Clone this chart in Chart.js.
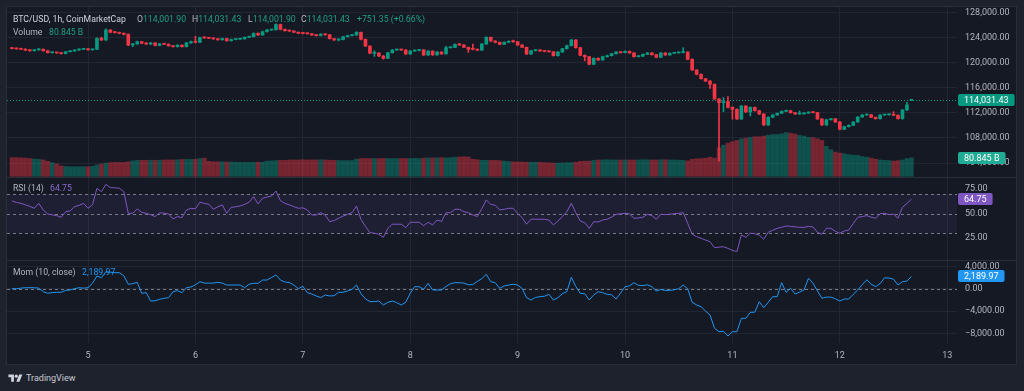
<!DOCTYPE html>
<html>
<head>
<meta charset="utf-8">
<title>BTC/USD 1h</title>
<script src="https://cdn.jsdelivr.net/npm/chart.js@4.4.1/dist/chart.umd.min.js"></script>
<style>
  html, body { margin: 0; padding: 0; }
  body { width: 1024px; height: 391px; background: #1e222d; overflow: hidden; position: relative; font-family: Roboto, "Noto Sans", sans-serif; }
  #frame { position: absolute; left: 6px; top: 6px; width: 1011px; height: 359px; background: #2a2e39; }
  .pane { position: absolute; left: 7px; width: 1009px; background: #151924; }
  .pane canvas { display: block; }
  #p1 { top: 7px; height: 170px; }
  #p2 { top: 178px; height: 82px; }
  #p3 { top: 261px; height: 103px; }
  .leg { position: absolute; left: 0; width: 600px; height: 12px; font-size: 8.7px; line-height: 12px; color: #b2b5be; white-space: nowrap; z-index: 2; }
  .leg span { position: absolute; top: 0; }
  .leg .ttl { color: #d1d4dc; }
  .leg .g { color: #1f9f86; }
  .leg b { font-weight: normal; }
  #brand { position: absolute; left: 8px; top: 372px; height: 12px; display: flex; align-items: center; color: #c8cbd3; font-size: 9px; }
  #brand svg { margin-right: 3px; }
</style>
</head>
<body>
<div id="frame"></div>
<div class="pane" id="p1"><canvas id="c1" width="1009" height="170"></canvas></div>
<div class="pane" id="p2"><canvas id="c2" width="1009" height="82"></canvas></div>
<div class="pane" id="p3"><canvas id="c3" width="1009" height="103"></canvas></div>

<div class="leg" style="top:13px">
  <span class="ttl" style="left:13px">BTC/USD, 1h, CoinMarketCap</span>
  <span style="left:137px">O<b class="g" id="lo"></b></span>
  <span style="left:192px">H<b class="g" id="lh"></b></span>
  <span style="left:248px">L<b class="g" id="ll"></b></span>
  <span style="left:301px">C<b class="g" id="lc"></b></span>
  <span class="g" style="left:357px" id="lchg"></span>
</div>
<div class="leg" style="top:26px"><span style="left:13px">Volume</span><span class="g" style="left:49px" id="lvol"></span></div>
<div class="leg" style="top:182px"><span style="left:13px">RSI (14)</span><span style="left:50px;color:#8c6bd0" id="lrsi"></span></div>
<div class="leg" style="top:266px"><span style="left:13px">Mom (10, close)</span><span style="left:82px;color:#2196f3" id="lmom"></span></div>
<div id="brand"><svg width="15" height="11" viewBox="0 0 36 28"><path d="M14 22H7V11H0V4h14v18zM28 22h-8l7.5-18h8L28 22z" fill="#d1d4dc"/><circle cx="20" cy="8" r="4" fill="#d1d4dc"/></svg>TradingView</div>

<script>
// hourly candles, first one is Aug 4 07:00
const startHour = 7;

const open = [
  122350,122250,122200,122150,122000,121900,122050,122150,121900,121600,121620,121550,121450,121750,121860,122020,122130,
  122180,122050,122130,123890,123620,125210,124850,124800,124690,124530,
  122820,122990,123350,123100,122980,123150,122750,123000,122950,122700,
  122550,122800,122550,123150,123350,123250,124000,123950,123900,123800,
  123650,123850,123500,123700,123750,123800,124050,124150,124690,124420,
  124940,125210,125250,126100,125300,125100,125050,124850,124700,124660,
  124620,124420,124320,124550,124450,123830,123620,123700,124140,124320,
  124420,124850,123730,122660,121500,121550,121070,120700,121590,122020,
  122080,122030,121390,121860,121950,122050,121230,121860,121250,121700,
  121400,122390,122420,122930,122820,122450,122140,122130,122000,122980,
  124050,123460,123250,122930,123250,123410,123350,122820,122450,121390,
  121910,122020,121870,121800,121740,121120,121700,122230,122710,123620,
  122390,121180,120960,119740,120700,120430,120960,121120,121430,121700,
  121600,121820,121550,120960,121050,121340,121550,121280,120860,121550,
  121230,121500,121560,121620,121700,120540,118840,118150,117450,117080,
  116560,114210,113620,113800,112890,112570,111030,113100,112140,112890,
  112350,111820,110070,111300,111660,111930,112250,112350,112030,111820,
  111850,111980,112090,112050,111030,110070,110910,111070,110550,109380,
  109800,110020,110550,111340,111660,111720,111300,111070,111660,111700,
  111750,111620,111070,112460,114001.90
];
const close = [
  122250,122200,122150,122000,121900,122050,122150,121900,121600,121620,121550,121450,121750,121860,122020,122130,122180,
  122050,122130,123890,123620,125210,124850,124800,124690,124530,122820,
  122990,123350,123100,122980,123150,122750,123000,122950,122700,122550,
  122800,122550,123150,123350,123250,124000,123950,123900,123800,123650,
  123850,123500,123700,123750,123800,124050,124150,124690,124420,124940,
  125210,125250,126100,125300,125100,125050,124850,124700,124660,124620,
  124420,124320,124550,124450,123830,123620,123700,124140,124320,124420,
  124850,123730,122660,121500,121550,121070,120700,121590,122020,122080,
  122030,121390,121860,121950,122050,121230,121860,121250,121700,121400,
  122390,122420,122930,122820,122450,122140,122130,122000,122980,124050,
  123460,123250,122930,123250,123410,123350,122820,122450,121390,121910,
  122020,121870,121800,121740,121120,121700,122230,122710,123620,122390,
  121180,120960,119740,120700,120430,120960,121120,121430,121700,121600,
  121820,121550,120960,121050,121340,121550,121280,120860,121550,121230,
  121500,121560,121620,121700,120540,118840,118150,117450,117080,116560,
  114210,113620,113800,112890,112570,111030,113100,112140,112890,112350,
  111820,110070,111300,111660,111930,112250,112350,112030,111820,111850,
  111980,112090,112050,111030,110070,110910,111070,110550,109380,109800,
  110020,110550,111340,111660,111720,111300,111070,111660,111700,111750,
  111620,111070,112460,113280,114031.43
];
const high = [
  122420,122330,122280,122230,122080,122130,122250,122200,121960,121700,121680,121600,121810,121940,122080,122200,122260,
  122300,122200,123980,124080,125380,125300,124950,124880,124760,124600,
  123080,123440,123420,123180,123240,123200,123090,123080,123000,122760,
  122880,122860,123240,123440,124200,124100,124150,124020,123960,123860,
  123920,123900,123780,123820,123880,124120,124230,124760,124780,125020,
  125300,125340,126200,126150,125380,125180,125120,124900,124780,124740,
  124680,124480,124620,124600,124500,123900,123800,124220,124400,124500,
  124950,124900,123780,122700,121900,121620,121150,121660,122100,122180,
  122150,122080,121940,122040,122140,122100,121940,121900,121780,121760,
  122600,122520,123020,123100,122880,122500,122980,122200,123060,124140,
  124100,123520,123300,123330,123500,123600,123400,122880,122500,121990,
  122100,122080,121930,121860,121800,121780,122300,122800,123720,123680,
  122450,121250,121020,120780,120760,121040,121200,121500,121780,121760,
  121900,121880,121600,121140,121420,121640,121600,121340,121620,121600,
  121580,121640,121700,122400,121760,120600,118900,118220,117520,117140,
  116620,114280,114450,114600,112960,112640,113180,113160,112960,112950,
  112420,111880,111380,111740,112000,112330,112430,112420,112100,112300,
  112060,112170,112160,112100,111100,110990,111150,111130,110620,109880,
  110100,110620,111420,111740,111800,111780,111360,111740,111780,111830,
  112200,111680,112540,113700,114031.43
];
const low = [
  122180,122120,122060,121920,121820,121850,121980,121840,121520,121520,121480,121380,121400,121700,121800,121960,122080,
  121980,121990,122060,123520,123560,124760,124700,124580,124420,122700,
  122560,122920,123020,122900,122880,122660,122680,122860,122620,122460,
  122480,122470,122500,123080,123160,123200,123860,123820,123720,123580,
  123600,123420,123440,123640,123700,123740,124000,124100,124350,124360,
  124880,125150,125200,125220,125020,124960,124780,124620,124580,124540,
  124340,124240,124260,124370,123760,123540,123480,123640,124080,124260,
  124360,123650,122580,121420,121000,120980,120560,120640,121520,121960,
  121960,121300,121320,121800,121880,121150,121180,121160,121180,121320,
  121350,122320,122380,122740,122380,121650,122050,121920,121940,122920,
  123380,123160,122850,122880,123180,123220,122740,122380,121300,121340,
  121860,121800,121720,121660,121040,121060,121640,122170,122650,122320,
  121100,120300,119660,119680,120360,120380,120900,121060,121380,121520,
  121540,121480,120880,120900,120980,121280,121200,120780,120800,121160,
  121180,121440,121500,121560,120460,118760,118060,117380,116980,115920,
  114140,104300,112200,112800,111000,110950,110960,112060,111500,112280,
  111740,109990,110000,111220,111600,111880,112200,111960,111750,111760,
  111780,111920,111980,110950,109990,110000,110840,110470,109300,109320,
  109740,109960,110480,111280,111600,111220,110990,111000,111600,111640,
  111560,110990,111000,112400,114001.90
];
// volume in billions
const volume = [
  82,82,81,80,78,76,75,72,66,60,55,46,43,42,42,42,42,
  42,44,50,54,58,60,61,61,61,64,
  68,70,70,70,71,70,71,72,72,72,
  73,74,74,74,75,78,80,66,64,64,
  64,63,63,62,61,61,61,61,62,62,
  67,68,69,70,70,72,72,72,73,72,
  72,72,73,72,71,70,70,69,69,69,
  76,78,79,78,78,78,79,78,78,78,
  78,78,78,79,78,80,81,81,81,82,
  81,82,84,85,86,85,75,73,70,70,
  70,70,69,67,65,64,63,63,62,62,
  62,62,60,59,58,58,59,60,60,62,
  66,67,67,70,72,72,73,72,72,72,
  72,72,72,72,73,73,72,72,73,73,
  72,72,71,70,68,75,77,78,80,84,
  80,125,137,146,152,158,165,168,171,174,
  174,177,181,184,184,187,192,190,186,180,
  177,171,170,165,158,132,117,107,102,99,
  95,93,92,87,84,80,75,72,70,69,
  67,69,72,78,80.845
];
const rsi = [
  63,61.5,60.6,59,57.5,55.5,60.6,53.8,49.7,48.8,48,46.3,52,52.8,57.2,58.5,60.6,
  55.5,59,76,72.5,80,76.6,76.5,76,72.5,50.4,
  50.4,54.8,51.4,50.4,49,47,51,50.5,49.7,44.6,
  47,46,53.8,55.5,55,61.7,60.5,59.6,54.5,57,
  59,50.4,56.5,57,57.9,59.5,61.7,67.4,60,65.8,
  67,68,73.2,63.3,60.5,59,57.2,55.5,56,53.8,
  48.7,48.7,51,48.7,41.8,43,45.3,47.5,49.4,51,
  57.9,44,37,30.6,30,28.9,25.8,35,39.2,39.2,
  39.2,35.7,41.2,41.2,41.2,37.7,41.2,38.5,43.5,42,
  51,51,54.5,54.5,52,51,48.7,47,55,64,
  59.6,58.5,53.8,54.5,55.5,55.5,50.4,46,39.2,44.3,
  44.3,44.3,44.3,43.5,38.5,42.5,47,52,60.6,51,
  42.5,40.8,35,41.8,41.5,43.5,44.3,46.5,49.4,49.8,
  50.4,49.8,45.3,45.6,46.3,49.4,48,44.3,49.4,49,
  49.4,50,50.4,51,40.2,28.9,26.5,24.8,23,21.3,
  15.2,15.8,16.2,14.5,12.5,11.1,28.2,25.8,30,29.5,
  28,23.8,31,33,35,36,37.4,37,36.5,36,
  36,37,36.5,31,28.9,35,35,32,30,32.3,
  33.3,40,46.3,47,48,46.5,45.3,50,50.4,49,
  49.5,45.3,56.5,60.5,64.75
];
const mom = [
  0,0,100,180,180,180,100,-530,-820,-700,-640,-640,-300,-230,0,180,100,
  180,960,2270,1960,3040,2950,2860,2860,2320,790,
  900,1140,-820,-700,-2200,-2150,-1900,-1710,-1600,-530,
  -350,-710,180,300,700,1250,1000,1000,1000,1140,
  1000,660,660,660,660,180,800,960,960,1550,
  1550,2000,2450,1550,1200,1100,660,0,450,-710,
  -950,-1300,-1600,-1130,-1300,-1250,-640,-640,-400,-100,
  660,-900,-1800,-2300,-2300,-2200,-2910,-2430,-2200,-2500,
  -2910,-2430,-820,360,360,-100,960,-230,-230,-230,
  400,900,1070,1070,1000,700,750,1300,1800,2570,
  1250,1070,70,500,660,800,660,70,-1600,-2020,
  -1550,-1430,-1350,-1000,-2020,-1600,-900,-530,2040,400,
  -820,-900,-2020,-1130,-530,-700,-1000,-1100,-1840,-800,
  360,500,1070,600,550,700,360,-410,-150,-300,
  -300,-200,0,660,0,-2430,-2900,-3210,-4000,-4700,
  -7070,-7680,-7600,-8450,-7680,-7680,-5290,-5290,-4220,-4200,
  -2320,-3390,-2430,-1430,-1430,1070,-640,70,-950,-600,
  -230,1860,1000,-400,-1710,-1500,-1500,-1800,-2200,-1840,
  -1840,-1000,-230,700,1600,800,360,900,1960,1900,
  1700,660,1250,1350,2189.97
];

const dayTicks = [5, 6, 7, 8, 9, 10, 11, 12, 13];
const priceTicks = [104000, 108000, 112000, 116000, 120000, 124000, 128000];
const rsiTicks = [25, 50, 75];
const rsiLevels = [70, 50, 30];
const momTicks = [-8000, -4000, 0, 4000];
const change = 751.35, changePct = 0.66;

const FONT = 'Roboto, "Noto Sans", sans-serif';
const TXT = '#b2b5be';
const GRID = '#222632';
const UP = '#089981', DOWN = '#f23645';

const n = close.length;
const t = close.map((_, i) => 4 + (startHour + i) / 24);
const isUp = close.map((c, i) => c >= open[i]);
const candleColor = isUp.map(u => u ? UP : DOWN);
const volColor = isUp.map(u => u ? 'rgba(8,153,129,0.45)' : 'rgba(242,54,69,0.45)');

function money(v) {
  const s = Math.abs(v).toLocaleString('en-US', { minimumFractionDigits: 2, maximumFractionDigits: 2 });
  return (v < 0 ? '\u2212' : '') + s;
}

function xAxis(showLabels) {
  return {
    type: 'linear', min: 4.2458, max: 13.091, offset: false,
    grid: { color: GRID, drawTicks: false, offset: false },
    border: { display: false },
    ticks: { display: showLabels, color: TXT, font: { family: FONT, size: 9 }, padding: 7, maxRotation: 0, autoSkip: false },
    afterBuildTicks: s => { s.ticks = dayTicks.map(v => ({ value: v })); },
    afterFit: s => { s.height = showLabels ? 21 : 0; s.paddingLeft = 0; s.paddingRight = 0; }
  };
}

function yAxis(min, max, ticks, showGrid) {
  return {
    position: 'right', min, max,
    grid: { display: showGrid, color: GRID, drawTicks: false },
    border: { display: false },
    ticks: { color: TXT, font: { family: FONT, size: 9 }, padding: 8, callback: v => money(v) },
    afterBuildTicks: s => { s.ticks = ticks.map(v => ({ value: v })); },
    afterFit: s => { s.width = 59; s.paddingTop = 0; s.paddingBottom = 0; }
  };
}

function tag(id, axisId, value, text, color) {
  return {
    id,
    afterDraw(chart) {
      const s = chart.scales[axisId], a = chart.chartArea, ctx = chart.ctx;
      const y = Math.round(s.getPixelForValue(value));
      ctx.save();
      ctx.font = '9px ' + FONT;
      const w = ctx.measureText(text).width + 12;
      ctx.fillStyle = color;
      ctx.beginPath();
      ctx.roundRect(a.right + 1, y - 6, w, 12, 2);
      ctx.fill();
      ctx.fillStyle = '#ffffff';
      ctx.textBaseline = 'middle';
      ctx.fillText(text, a.right + 7, y + 0.5);
      ctx.restore();
    }
  };
}

function hLine(ctx, a, y, color, dash) {
  ctx.save();
  ctx.strokeStyle = color;
  ctx.lineWidth = 1;
  ctx.setLineDash(dash);
  ctx.beginPath();
  ctx.moveTo(a.left, Math.round(y) + 0.5);
  ctx.lineTo(a.right, Math.round(y) + 0.5);
  ctx.stroke();
  ctx.restore();
}

const common = {
  responsive: false, animation: false, events: [],
  layout: { padding: 0 },
  plugins: { legend: { display: false }, tooltip: { enabled: false } }
};

const last = n - 1;

// main pane: candles + volume
new Chart(document.getElementById('c1'), {
  type: 'bar',
  data: {
    datasets: [
      { label: 'Volume', data: volume.map((v, i) => ({ x: t[i], y: v })), yAxisID: 'yv',
        backgroundColor: volColor, barThickness: 3.8, grouped: false, order: 3 },
      { label: 'Wick', data: low.map((l, i) => ({ x: t[i], y: [l, high[i]] })), yAxisID: 'y',
        backgroundColor: candleColor, barThickness: 1, grouped: false, order: 2 },
      { label: 'Body', data: open.map((o, i) => ({ x: t[i], y: [o, close[i]] })), yAxisID: 'y',
        backgroundColor: candleColor, barThickness: 3, minBarLength: 1, grouped: false, order: 1 }
    ]
  },
  options: Object.assign({}, common, {
    scales: {
      x: xAxis(false),
      y: yAxis(101781, 128879, priceTicks, true),
      yv: { display: false, min: -3, max: 745 }
    }
  }),
  plugins: [
    { id: 'priceLine', beforeDatasetsDraw(chart) {
        hLine(chart.ctx, chart.chartArea, chart.scales.y.getPixelForValue(close[last]), UP, [1, 2]);
    } },
    tag('priceTag', 'y', close[last], money(close[last]), UP),
    tag('volTag', 'yv', volume[last], volume[last].toFixed(3) + ' B', '#22ab94')
  ]
});

// RSI pane
new Chart(document.getElementById('c2'), {
  type: 'line',
  data: { datasets: [{ label: 'RSI', data: rsi.map((v, i) => ({ x: t[i], y: v })),
    borderColor: '#7e57c2', borderWidth: 1, pointRadius: 0, tension: 0 }] },
  options: Object.assign({}, common, {
    scales: { x: xAxis(false), y: yAxis(2.6, 86.5, rsiTicks, false) }
  }),
  plugins: [
    { id: 'band', beforeDatasetsDraw(chart) {
        const s = chart.scales.y, a = chart.chartArea, ctx = chart.ctx;
        const y1 = s.getPixelForValue(rsiLevels[0]), y2 = s.getPixelForValue(rsiLevels[2]);
        ctx.save();
        ctx.fillStyle = 'rgba(126,87,194,0.1)';
        ctx.fillRect(a.left, y1, a.width, y2 - y1);
        ctx.restore();
        rsiLevels.forEach(l => hLine(ctx, a, s.getPixelForValue(l), '#787b86', [3, 3]));
    } },
    tag('rsiTag', 'y', rsi[last], rsi[last].toFixed(2), '#7e57c2')
  ]
});

// Momentum pane with time axis
new Chart(document.getElementById('c3'), {
  type: 'line',
  data: { datasets: [{ label: 'Mom', data: mom.map((v, i) => ({ x: t[i], y: v })),
    borderColor: '#2196f3', borderWidth: 1, pointRadius: 0, tension: 0 }] },
  options: Object.assign({}, common, {
    scales: { x: xAxis(true), y: yAxis(-9700, 4950, momTicks, true) }
  }),
  plugins: [
    { id: 'zero', beforeDatasetsDraw(chart) {
        hLine(chart.ctx, chart.chartArea, chart.scales.y.getPixelForValue(0), '#787b86', [3, 3]);
    } },
    tag('momTag', 'y', mom[last], money(mom[last]), '#2196f3')
  ]
});

document.getElementById('lo').textContent = money(open[last]);
document.getElementById('lh').textContent = money(high[last]);
document.getElementById('ll').textContent = money(low[last]);
document.getElementById('lc').textContent = money(close[last]);
document.getElementById('lchg').textContent = '+' + change.toFixed(2) + ' (+' + changePct.toFixed(2) + '%)';
document.getElementById('lvol').textContent = volume[last].toFixed(3) + ' B';
document.getElementById('lrsi').textContent = rsi[last].toFixed(2);
document.getElementById('lmom').textContent = money(mom[last]);
</script>
</body>
</html>
